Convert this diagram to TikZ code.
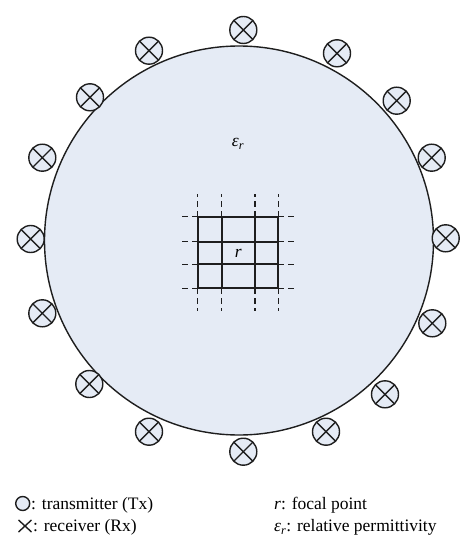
\documentclass[tikz,border=0pt]{standalone}
\usepackage{fontspec}
\setmainfont{Liberation Serif}
\usepackage{tikz}
\usetikzlibrary{positioning}
\definecolor{medium}{RGB}{229,235,245}
\definecolor{inkline}{RGB}{30,30,30}

\begin{document}
\begin{tikzpicture}[x=1pt, y=-1pt, font=\fontsize{17.5}{22}\selectfont,
		txrx/.style={draw=inkline, circle, fill=medium, line width=1.4pt, minimum size=27pt, inner sep=0pt,
			path picture={\draw[inkline, line width=1.4pt]
				(path picture bounding box.north west) -- (path picture bounding box.south east)
				(path picture bounding box.north east) -- (path picture bounding box.south west);}},
		gridline/.style={draw=inkline, line width=1.7pt},
		gridext/.style={draw=inkline, line width=1.5pt, dash pattern=on 6pt off 4pt},
		legend/.style={anchor=base west, inner sep=0pt}]
		\useasboundingbox (0,0) rectangle (474,553);

		% imaging medium
		\node[draw=inkline, circle, fill=medium, line width=1.4pt, minimum size=389pt, inner sep=0pt] (medium) at (239,240.5) {};
		\node (eps) at (238,144) {\textit{ε}\textsubscript{\textit{r}}};

		% transmitters / receivers round the medium
		\foreach \name/\px/\py in {t1/243.3/30, t2/337/53.3, t3/396.7/100.7, t4/431.7/157.7,
				t5/445.7/238.3, t6/432.3/323.3, t7/385/394.3, t8/326/431.7,
				t9/243.3/451.7, t10/149/431.7, t11/89.3/384, t12/42.3/313.3,
				t13/30.7/239, t14/42.3/157.7, t15/90/97.3, t16/149/50.7}
			\node[txrx] (\name) at (\px,\py) {};

		% focal grid
		\foreach \gx in {197.7, 221.7, 255, 278.3} {
			\draw[gridline] (\gx,216.7) -- (\gx,288.3);
			\draw[gridext] (\gx,216.7) -- (\gx,194);
			\draw[gridext] (\gx,288.3) -- (\gx,311);
		}
		\foreach \gy in {216.7, 241.7, 264.3, 288.3} {
			\draw[gridline] (197.7,\gy) -- (278.3,\gy);
			\draw[gridext] (197.7,\gy) -- (180,\gy);
			\draw[gridext] (278.3,\gy) -- (296,\gy);
		}
		\node (focal) at (238.3,253) {\textit{r}};

		% legend
		\node[draw=inkline, circle, fill=medium, line width=1.4pt, minimum size=14pt, inner sep=0pt] (txsym) at (22.7,503.5) {};
		\coordinate (rxa) at (18.5,520);
		\coordinate (rxb) at (31.5,532);
		\coordinate (rxc) at (31.5,520);
		\coordinate (rxd) at (18.5,532);
		\draw[inkline, line width=1.4pt] (rxa) -- (rxb) (rxc) -- (rxd);
		\node[legend] (txtext) at (31,509.3) {: transmitter (Tx)};
		\node[legend] (rxtext) at (33,531.7) {: receiver (Rx)};
		\node[legend] (rtext) at (274,509.3) {\textit{r}: focal point};
		\node[legend] (epstext) at (274,531.7) {\textit{ε}\textsubscript{\textit{r}}: relative permittivity};
	\end{tikzpicture}
\end{document}
